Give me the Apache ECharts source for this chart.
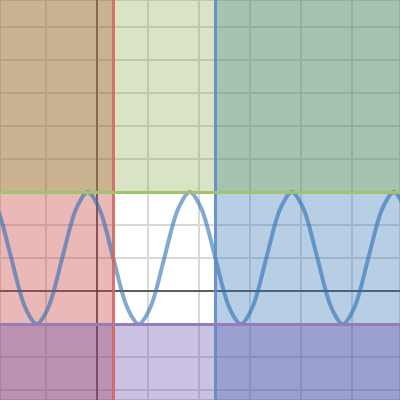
<!DOCTYPE html>
<html>
<head>
<meta charset="utf-8">
<script src="https://cdn.jsdelivr.net/npm/echarts@6/dist/echarts.min.js"></script>
<style>html,body{margin:0;padding:0;background:#fff}#main{width:400px;height:400px}</style>
</head>
<body>
<div id="main"></div>
<script>
// curve points (eighth-period steps)
var curveX = [-2.18, -1.93, -1.68, -1.43, -1.18, -0.93, -0.68, -0.43, -0.18, 0.07, 0.32, 0.57, 0.82, 1.07, 1.32, 1.57, 1.82,
    2.07, 2.32, 2.57, 2.82, 3.07, 3.32, 3.57, 3.82, 4.07, 4.32, 4.57, 4.82, 5.07, 5.32, 5.57, 5.82, 6.07];
var curveY = [3, 2.41, 1, -0.41, -1, -0.41, 1, 2.41, 3, 2.41, 1, -0.41, -1, -0.41, 1, 2.41, 3,
    2.41, 1, -0.41, -1, -0.41, 1, 2.41, 3, 2.41, 1, -0.41, -1, -0.41, 1, 2.41, 3, 2.41];
// region boundaries
var leftBound = 0.31;   // x < this: red
var rightBound = 2.31;  // x > this: blue
var topBound = 3;       // y > this: green
var bottomBound = -1;   // y < this: purple
var xMin = -1.9, xMax = 5.94, yMin = -3.3, yMax = 8.82;

var chart = echarts.init(document.getElementById('main'));
var pts = curveX.map(function (x, i) { return [x, curveY[i]]; });

function region(name, fill, line, area, ml) {
    return {
        name: name, type: 'line', data: [], z: 5,
        markArea: {silent: true, itemStyle: {color: fill}, data: [area]},
        markLine: {silent: true, symbol: 'none', label: {show: false},
            lineStyle: {color: line, width: 3, type: 'solid'}, data: [ml]}
    };
}

chart.setOption({
    animation: false,
    grid: {left: 0, right: 0, top: 0, bottom: 0},
    xAxis: {
        type: 'value', min: xMin, max: xMax, splitNumber: 8,
        axisLabel: {show: false}, axisTick: {show: false},
        axisLine: {onZero: true, lineStyle: {color: '#333', width: 1.5}},
        splitLine: {lineStyle: {color: '#d9d9d9', width: 2}}
    },
    yAxis: {
        type: 'value', min: yMin, max: yMax, splitNumber: 12,
        axisLabel: {show: false}, axisTick: {show: false},
        axisLine: {onZero: true, lineStyle: {color: '#333', width: 1.5}},
        splitLine: {lineStyle: {color: '#d9d9d9', width: 2}}
    },
    series: [
        {
            type: 'line', data: pts, smooth: 0.3, symbol: 'none', z: 2, clip: true,
            lineStyle: {color: 'rgba(45,112,179,0.6)', width: 4}
        },
        region('red', 'rgba(199,68,64,0.38)', 'rgba(215,100,95,0.9)',
            [{coord: [xMin, yMin]}, {coord: [leftBound, yMax]}], {xAxis: leftBound}),
        region('blue', 'rgba(45,112,179,0.34)', 'rgba(95,140,200,0.9)',
            [{coord: [rightBound, yMin]}, {coord: [xMax, yMax]}], {xAxis: rightBound}),
        region('green', 'rgba(125,165,55,0.3)', 'rgba(160,195,110,1)',
            [{coord: [xMin, topBound]}, {coord: [xMax, yMax]}], {yAxis: topBound}),
        region('purple', 'rgba(96,66,166,0.33)', 'rgba(150,125,185,1)',
            [{coord: [xMin, yMin]}, {coord: [xMax, bottomBound]}], {yAxis: bottomBound})
    ]
});
</script>
</body>
</html>
